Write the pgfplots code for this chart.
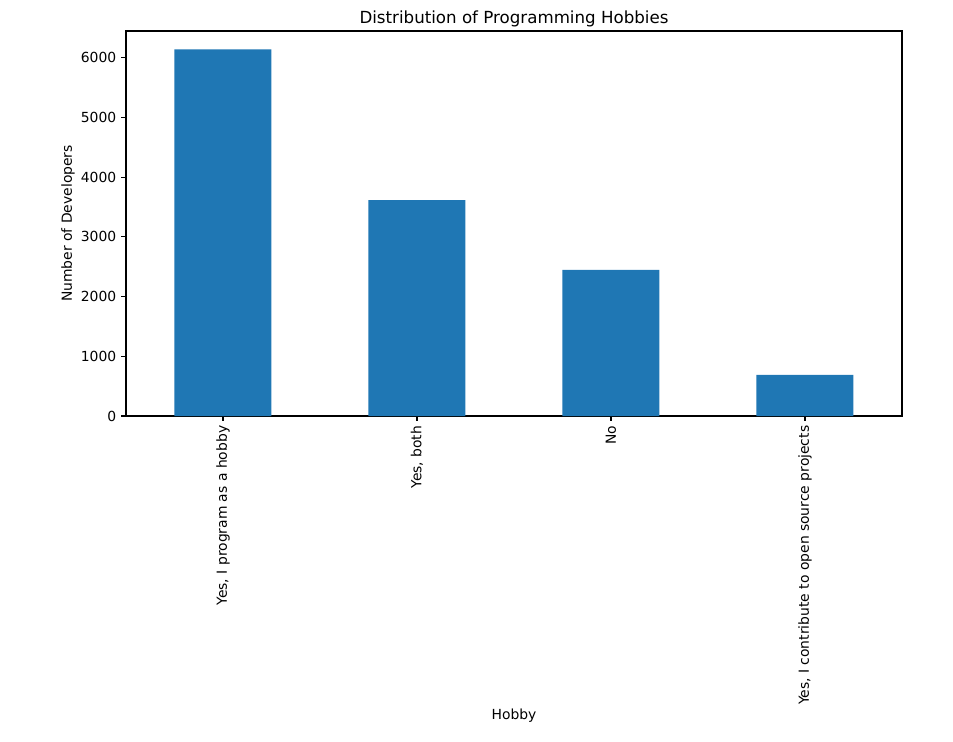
\documentclass[border=0pt]{standalone}
\usepackage{pgfplots}
\pgfplotsset{compat=1.18}
\usepackage{fontspec}
\setmainfont{DejaVu Sans}
\definecolor{mplblue}{HTML}{1F77B4}

\begin{document}
\begin{tikzpicture}
% page frame: 953x741 px at 0.72pt per px
\useasboundingbox (-90.72pt,-234pt) rectangle (595.44pt,299.52pt);
\begin{axis}[
	at={(0,0)}, anchor=south west,
	scale only axis,
	width=558.72pt, height=277.2pt,
	xmin=-0.5, xmax=3.5,
	ymin=0, ymax=6446,
	xtick=data,
	xticklabels={{Yes, I program as a hobby},{Yes, both},{No},{Yes, I contribute to open source projects}},
	xticklabel style={rotate=90, anchor=east},
	ytick={0,1000,...,6000},
	tick align=outside,
	major tick length=3.5pt,
	tick style={black, line width=0.8pt},
	xtick pos=bottom, ytick pos=left,
	axis line style={line width=0.8pt},
	/pgf/number format/assume math mode=true,
	/pgf/number format/1000 sep=,
	tick label style={font=\fontsize{10}{12}\selectfont},
	label style={font=\fontsize{10}{12}\selectfont},
	title={Distribution of Programming Hobbies},
	title style={font=\fontsize{12}{14}\selectfont, at={(axis description cs:0.5,1)}, anchor=base, yshift=-0.5pt},
	xlabel={Hobby},
	xlabel style={at={(axis description cs:0.5,-0.779)}, anchor=center},
	ylabel={Number of Developers},
	ylabel style={at={(axis description cs:-0.0747,0.5)}, anchor=center},
	ybar, bar width=0.5,
]
\addplot[fill=mplblue, draw=none, bar shift=0pt] coordinates {
	(0,6139) (1,3615) (2,2445) (3,690)
};
\end{axis}
\end{tikzpicture}
\end{document}
